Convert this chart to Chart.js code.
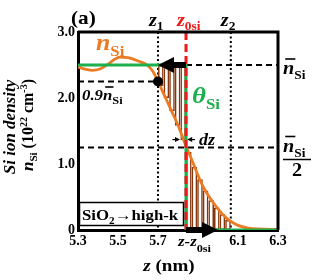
<!DOCTYPE html>
<html>
<head>
<meta charset="utf-8">
<script src="https://cdn.jsdelivr.net/npm/chart.js@4.4.1/dist/chart.umd.min.js"></script>
<style>
  html, body { margin: 0; padding: 0; background: #fff; }
</style>
</head>
<body>
<canvas id="chart" width="312" height="280"></canvas>
<script>
// n_Si(z) profile (10^22 cm^-3)
const curveZ = [5.30, 5.33, 5.37, 5.41, 5.445, 5.48, 5.51, 5.55, 5.60, 5.645, 5.675, 5.70, 5.735, 5.77, 5.805, 5.84, 5.875, 5.90, 5.925, 5.95, 5.975, 6.00, 6.025, 6.055, 6.10, 6.15, 6.20, 6.30];
const curveN = [2.47, 2.44, 2.42, 2.44, 2.50, 2.58, 2.62, 2.61, 2.56, 2.50, 2.40, 2.25, 2.02, 1.79, 1.55, 1.27, 1.02, 0.83, 0.66, 0.53, 0.42, 0.32, 0.23, 0.15, 0.07, 0.03, 0.015, 0.01];

// dz strips left of z0si (hanging from n-bar) and right of it (standing on 0)
const leftBarZ = [5.714, 5.742, 5.770, 5.798, 5.826];
const leftBarBottom = [2.18, 2.00, 1.80, 1.58, 1.36];
const rightBarZ = [5.854, 5.882, 5.910, 5.938, 5.966, 5.994, 6.022, 6.050];
const rightBarTop = [1.18, 0.96, 0.77, 0.60, 0.45, 0.34, 0.24, 0.15];

const nBar = 2.5;      // mean density
const nBar09 = 2.25;   // 0.9 * mean
const nHalf = 1.25;    // mean / 2
const z1 = 5.70, z0si = 5.84, z2 = 6.064;
const zMin = 5.3, zMax = 6.3, nMax = 3.0;

const xTicks = [5.3, 5.5, 5.7, 5.9, 6.1, 6.3];
const xTickLabels = ['5.3', '5.5', '5.7', '', '6.1', '6.3'];
const yTicks = [0, 1, 2, 3];
const yTickLabels = ['0', '1.0', '2.0', '3.0'];

// big arrows (theta shift) and the little dz arrows
const arrowFrom = [[5.84, 2.5], [5.84, 0]];
const arrowTo = [[5.70, 2.5], [6.0, 0]];
const dzFrom = [[5.772, 1.37], [5.885, 1.37]];
const dzTo = [[5.81, 1.37], [5.846, 1.37]];

const SERIF = '"Liberation Serif", "DejaVu Serif", serif';
const bf = s => 'bold ' + s + 'px ' + SERIF;
const bif = s => 'italic bold ' + s + 'px ' + SERIF;
const SX = 1.12;

const ORANGE = '#EC7A22';
const BROWN = '#85360C';
const GREEN = '#1DAF4E';
const RED = '#F01818';

const pts = (xs, ys) => xs.map((x, i) => ({x: x, y: ys[i]}));

function rich(ctx, x, y, parts, align = 'left', rot = 0, sx = SX) {
    ctx.save();
    ctx.translate(x, y);
    if (rot) ctx.rotate(rot);
    ctx.scale(sx, 1);
    ctx.textBaseline = 'alphabetic';
    ctx.textAlign = 'left';
    let w = 0;
    for (const p of parts) { ctx.font = p.f; w += ctx.measureText(p.t).width; }
    let cx = align === 'center' ? -w / 2 : 0;
    for (const p of parts) {
        ctx.font = p.f;
        ctx.fillStyle = p.c || '#000';
        const pw = ctx.measureText(p.t).width;
        ctx.fillText(p.t, cx, p.dy || 0);
        if (p.bar) {
            ctx.strokeStyle = p.c || '#000';
            ctx.lineWidth = 1.6;
            ctx.beginPath();
            ctx.moveTo(cx + 2, -p.bar);
            ctx.lineTo(cx + pw + 1, -p.bar);
            ctx.stroke();
        }
        cx += pw;
    }
    ctx.restore();
}

function arrow(ctx, x1, y1, x2, y2, shaft, headL, headW) {
    const ang = Math.atan2(y2 - y1, x2 - x1);
    const len = Math.hypot(x2 - x1, y2 - y1);
    ctx.save();
    ctx.translate(x1, y1);
    ctx.rotate(ang);
    ctx.fillStyle = '#000';
    ctx.fillRect(0, -shaft / 2, len - headL + 1, shaft);
    ctx.beginPath();
    ctx.moveTo(len, 0);
    ctx.lineTo(len - headL, -headW);
    ctx.lineTo(len - headL, headW);
    ctx.closePath();
    ctx.fill();
    ctx.restore();
}

const overlay = {
    id: 'overlay',
    afterDatasetsDraw(chart) {
        const {ctx, chartArea: a, scales: {x, y}} = chart;

        // top and right side of the frame
        ctx.save();
        ctx.strokeStyle = '#000';
        ctx.lineWidth = 3;
        ctx.beginPath();
        ctx.moveTo(a.left, a.top);
        ctx.lineTo(a.right, a.top);
        ctx.lineTo(a.right, a.bottom);
        ctx.stroke();
        ctx.restore();

        arrowFrom.forEach((f, i) => {
            arrow(ctx, x.getPixelForValue(f[0]), y.getPixelForValue(f[1]),
                x.getPixelForValue(arrowTo[i][0]), y.getPixelForValue(arrowTo[i][1]), 6, 16, 8);
        });
        dzFrom.forEach((f, i) => {
            arrow(ctx, x.getPixelForValue(f[0]), y.getPixelForValue(f[1]),
                x.getPixelForValue(dzTo[i][0]), y.getPixelForValue(dzTo[i][1]), 1.2, 5, 2.5);
        });

        // SiO2 -> high-k box
        ctx.save();
        ctx.fillStyle = '#fff';
        ctx.strokeStyle = '#000';
        ctx.lineWidth = 1.5;
        ctx.fillRect(79.5, 202.5, 104, 23);
        ctx.strokeRect(79.5, 202.5, 104, 23);
        ctx.restore();
        rich(ctx, 82, 220, [
            {t: 'SiO', f: bf(15)}, {t: '2', f: bf(10), dy: 4}, {t: '\u2192high-k', f: bf(15)}
        ]);

        // panel letter and z markers
        rich(ctx, 71, 24, [{t: '(a)', f: bf(19)}]);
        const zl = x.getPixelForValue(z1), z0 = x.getPixelForValue(z0si), zr = x.getPixelForValue(z2);
        rich(ctx, zl - 9, 26, [{t: 'z', f: bif(18)}, {t: '1', f: bf(12), dy: 4}]);
        rich(ctx, z0 - 9, 26, [{t: 'z', f: bif(18), c: RED}, {t: '0si', f: bf(12), dy: 4, c: RED}]);
        rich(ctx, zr - 10, 26, [{t: 'z', f: bif(18)}, {t: '2', f: bf(12), dy: 4}]);

        // right-hand labels
        const yn = y.getPixelForValue(nBar), yh = y.getPixelForValue(nHalf);
        rich(ctx, 283, yn + 9, [{t: 'n', f: bif(18), bar: 15}, {t: 'Si', f: bf(12), dy: 5}]);
        rich(ctx, 283, yh + 4, [{t: 'n', f: bif(18), bar: 15}, {t: 'Si', f: bf(12), dy: 5}]);
        ctx.save();
        ctx.strokeStyle = '#000';
        ctx.lineWidth = 1.5;
        ctx.beginPath();
        ctx.moveTo(283, yh + 12);
        ctx.lineTo(311, yh + 12);
        ctx.stroke();
        ctx.restore();
        rich(ctx, 297, yh + 28, [{t: '2', f: bf(18)}], 'center');

        // in-plot labels
        rich(ctx, 96, 50, [{t: 'n', f: bif(23), c: ORANGE}, {t: 'Si', f: bf(15), dy: 6, c: ORANGE}]);
        rich(ctx, 82, 100, [{t: '0.9', f: bif(15)}, {t: 'n', f: bif(15), bar: 13}, {t: 'Si', f: bf(11), dy: 4}]);
        rich(ctx, 192, 103, [{t: '\u03b8', f: bif(24), c: GREEN}, {t: 'Si', f: bf(15), dy: 6, c: GREEN}]);
        rich(ctx, 199, 145, [{t: 'dz', f: bif(16)}]);

        // special tick label at 5.9
        rich(ctx, 178, 246, [{t: 'z-z', f: bif(15)}, {t: '0si', f: bf(11), dy: 6}]);

        // axis titles
        rich(ctx, 169, 271, [{t: 'z', f: bif(17)}, {t: ' (nm)', f: bf(17)}], 'center');
        rich(ctx, 15, 127, [{t: 'Si ion density', f: bif(17)}], 'center', -Math.PI / 2, 1);
        rich(ctx, 33, 125, [
            {t: 'n', f: bif(17)}, {t: 'Si', f: bf(11), dy: 4}, {t: ' (10', f: bf(16)},
            {t: '22', f: bf(10), dy: -6}, {t: ' cm', f: bf(16)}, {t: '-3', f: bf(10), dy: -6}, {t: ')', f: bf(16)}
        ], 'center', -Math.PI / 2, 1);
    }
};

const lineBase = {type: 'line', pointRadius: 0, fill: false, tension: 0};

const barData = leftBarZ.map((z, i) => ({x: z, y: [leftBarBottom[i], nBar]}))
    .concat(rightBarZ.map((z, i) => ({x: z, y: [0, rightBarTop[i]]})));

const config = {
    type: 'line',
    data: {
        datasets: [
            { ...lineBase, data: [{x: z1, y: nBar09}], pointRadius: 5, pointBackgroundColor: '#000',
              pointBorderWidth: 0, showLine: false, order: 0 },
            { ...lineBase, data: [{x: z0si, y: nMax}, {x: z0si, y: 0}], borderColor: RED,
              borderWidth: 3, borderDash: [8, 4], order: 1 },
            { ...lineBase, data: [{x: zMin, y: nBar}, {x: z0si, y: nBar}, {x: z0si, y: 0}, {x: zMax, y: 0}],
              borderColor: GREEN, borderWidth: 3, order: 2 },
            { ...lineBase, data: pts(curveZ, curveN), borderColor: ORANGE, borderWidth: 2.8,
              cubicInterpolationMode: 'monotone', order: 3 },
            { type: 'bar', data: barData, backgroundColor: 'rgba(0,0,0,0)', borderColor: BROWN,
              borderWidth: 1.5, borderSkipped: false, inflateAmount: 0,
              barPercentage: 1, categoryPercentage: 1, order: 4 },
            { ...lineBase, data: [{x: z0si, y: nBar}, {x: zMax, y: nBar}], borderColor: '#000',
              borderWidth: 2, borderDash: [6, 4], order: 5 },
            { ...lineBase, data: [{x: zMin, y: nBar09}, {x: z1, y: nBar09}], borderColor: '#000',
              borderWidth: 2, borderDash: [6, 4], order: 5 },
            { ...lineBase, data: [{x: zMin, y: nHalf}, {x: zMax, y: nHalf}], borderColor: '#000',
              borderWidth: 2, borderDash: [6, 4], order: 5 },
            { ...lineBase, data: [{x: z1, y: nMax}, {x: z1, y: 0}], borderColor: '#000',
              borderWidth: 2, borderDash: [2, 2.5], order: 6 },
            { ...lineBase, data: [{x: z2, y: nMax}, {x: z2, y: 0}], borderColor: '#000',
              borderWidth: 2, borderDash: [2, 2.5], order: 6 }
        ]
    },
    options: {
        responsive: false,
        animation: false,
        events: [],
        layout: { padding: { left: 0, right: 34, top: 32, bottom: 0 } },
        plugins: { legend: { display: false }, tooltip: { enabled: false } },
        scales: {
            x: {
                type: 'linear',
                min: zMin,
                max: zMax,
                offset: false,
                afterBuildTicks: s => { s.ticks = xTicks.map(v => ({value: v})); },
                afterFit: s => { s.height = 50; },
                grid: { display: false, drawTicks: false },
                border: { display: true, width: 3, color: '#000' },
                ticks: {
                    padding: 3,
                    maxRotation: 0,
                    color: '#000',
                    font: { family: SERIF, size: 14, weight: 'bold' },
                    callback: (v, i) => xTickLabels[i]
                }
            },
            y: {
                min: 0,
                max: nMax,
                afterBuildTicks: s => { s.ticks = yTicks.map(v => ({value: v})); },
                afterFit: s => { s.width = 78; },
                grid: { display: false, drawTicks: false },
                border: { display: true, width: 3, color: '#000' },
                ticks: {
                    padding: 3,
                    color: '#000',
                    font: { family: SERIF, size: 14, weight: 'bold' },
                    callback: (v, i) => yTickLabels[i]
                }
            }
        }
    },
    plugins: [overlay]
};

const myChart = new Chart(document.getElementById('chart').getContext('2d'), config);
</script>
</body>
</html>
